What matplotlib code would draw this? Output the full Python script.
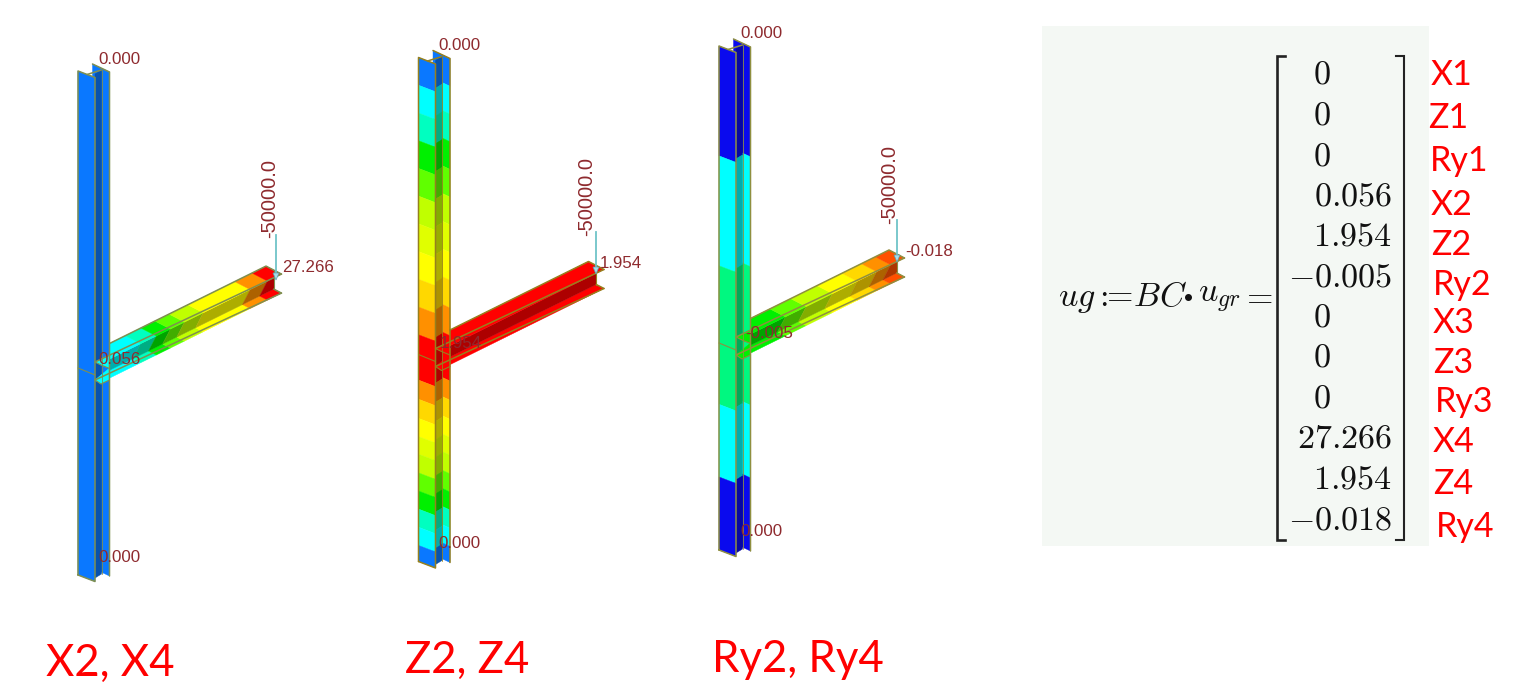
import matplotlib
matplotlib.use("Agg")
import matplotlib.pyplot as plt
from matplotlib.patches import Polygon, Rectangle

plt.rcParams['mathtext.fontset'] = 'cm'

# ---------- data ----------
BLUE, CYAN, AQUA, GREEN, LIME, YGRN, LEMON, YEL, GOLD, ORG, RED = (
    '#0a78ff', '#00ffff', '#00ffc0', '#00f000', '#60ff00', '#c0ff00',
    '#e0ff00', '#ffff00', '#ffd800', '#ff9000', '#ff0000')
DEEP = '#0a0aee'
MINT = '#00f880'
ORD = '#ff5000'

f1_col_edges = [0, 1]
f1_col_colors = [BLUE]
f1_beam_edges = [-.25, .10, .20, .29, .38, .50, .80, .91, 1]
f1_beam_colors = [CYAN, AQUA, GREEN, LIME, YGRN, YEL, ORG, RED]

f2_col_edges = [0, .055, .11, .165, .22, .275, .33, .385, .44, .495, .55, .64,
                .678, .716, .752, .787, .824, .86, .896, .932, .968, 1]
f2_col_colors = [BLUE, CYAN, AQUA, GREEN, LIME, YGRN, LEMON, YEL, GOLD, ORG, RED,
                 ORG, GOLD, YEL, LEMON, YGRN, LIME, GREEN, AQUA, CYAN, BLUE]
f2_beam_edges = [-.25, 1]
f2_beam_colors = [RED]

f3_col_edges = [0, .218, .436, .711, .855, 1]
f3_col_colors = [DEEP, CYAN, MINT, CYAN, DEEP]
f3_beam_edges = [-.25, .14, .29, .48, .66, .80, .90, 1]
f3_beam_colors = [GREEN, LIME, YGRN, YEL, GOLD, ORG, ORD]

frames = [
    dict(o=(78, 71), scale=1.13, ce=f1_col_edges, cc=f1_col_colors,
         be=f1_beam_edges, bc=f1_beam_colors, edge='#7f8f50'),
    dict(o=(418.5, 57.5), scale=1.0, ce=f2_col_edges, cc=f2_col_colors,
         be=f2_beam_edges, bc=f2_beam_colors, edge='#96801e'),
    dict(o=(719, 46), scale=1.0, ce=f3_col_edges, cc=f3_col_colors,
         be=f3_beam_edges, bc=f3_beam_colors, edge='#8f8f40'),
]

node_labels = [
    ('0.000', 98, 60), ('0.056', 98, 360), ('0.000', 98, 558), ('27.266', 282, 267),
    ('0.000', 438, 46), ('1.954', 440, 344), ('0.000', 438, 544), ('1.954', 600, 264),
    ('0.000', 740, 34), ('-0.005', 745, 333), ('0.000', 740, 532), ('-0.018', 905, 252),
]
load_label = '-50000.0'
load_pos = [(270, 198), (587, 196), (890, 184)]
load_line = [(276, 235, 276), (596, 232, 270), (897, 220, 258)]

case_labels = [('X2, X4', 46, 663), ('Z2, Z4', 405, 660), ('Ry2, Ry4', 712, 660)]

lhs_parts = [(r'$ug{:}\!\!\!{=}\!BC$', 1058), (r'$u_{gr}$', 1198), (r'${=}$', 1241)]
ug_values = ['0', '0', '0', '0.056', '1.954', '-0.005', '0', '0', '0', '27.266', '1.954', '-0.018']
dof_names = ['X1', 'Z1', 'Ry1', 'X2', 'Z2', 'Ry2', 'X3', 'Z3', 'Ry3', 'X4', 'Z4', 'Ry4']
row_y = [74, 115, 156, 196, 236, 277, 317, 357, 398, 438, 479, 520]
dof_x = [1431, 1428, 1430, 1431, 1431, 1433, 1433, 1433, 1435, 1433, 1433, 1436]
dof_y = [75, 118, 161, 205, 245, 285, 323, 363, 402, 442, 484, 527]

# ---------- drawing ----------
fig = plt.figure(figsize=(15.36, 6.97), dpi=100)
ax = fig.add_axes([0, 0, 1, 1])
ax.set_xlim(0, 1536)
ax.set_ylim(697, 0)
ax.axis('off')

H = 504


def dark(c, k=0.68):
    r, g, b = matplotlib.colors.to_rgb(c)
    return (r * k, g * k, b * k)


def poly(pts, fc, z, clip=None):
    p = Polygon(pts, closed=True, facecolor=fc, edgecolor=fc, lw=0.3, zorder=z)
    ax.add_patch(p)
    if clip is not None:
        p.set_clip_path(clip)
    return p


def outline(pts, col, z=8, lw=1.1):
    ax.plot([p[0] for p in pts], [p[1] for p in pts], color=col, lw=lw, zorder=z,
            solid_capstyle='round')


for fr in frames:
    ox, oy = fr['o']
    edge = fr['edge']

    def R(x, y):
        return (ox + x, oy + y)

    # column: rear flange, web, front flange
    for v0, v1, c in zip(fr['ce'][:-1], fr['ce'][1:], fr['cc']):
        y0, y1 = v0 * H, v1 * H
        poly([R(14.5, y0 - 7), R(31.5, y0 + 1), R(31.5, y1 + 1), R(14.5, y1 - 7)], c, 1)
        poly([R(17, y0 + 3), R(23.5, y0 - 1), R(23.5, y1 - 1), R(17, y1 + 3)], dark(c), 2)
        poly([R(0, y0), R(17, y0 + 6.5), R(17, y1 + 6.5), R(0, y1)], c, 3)
    outline([R(0, H), R(0, 0), R(17, 6.5), R(17, H + 6.5), R(0, H)], edge)
    outline([R(9, 3.5), R(23.5, -1)], edge)
    outline([R(14.5, -7), R(31.5, 1), R(31.5, H + 1)], edge)
    outline([R(23.5, -1), R(23.5, H - 1)], edge, lw=0.6)
    outline([R(0, 297), R(17, 304)], edge, lw=0.8)

    # beam
    s = fr['scale']
    Ax, Ay = 138.5 * s, -68.5 * s
    Cx, Cy = 15.5, 8
    Dy = 19

    def far(t):
        return (31.5 + Ax * t, 272.5 + Ay * t)

    def near(t):
        x, y = far(t)
        return (x + Cx, y + Cy)

    def center_bot(t):
        x, y = far(t)
        return (x + Cx / 2, y + Cy / 2 + Dy)

    def near_bot(t):
        x, y = near(t)
        return (x, y + Dy)

    tipx = far(1)[0] + Cx / 2
    clip_all = Rectangle(R(31.5, 150), 300, 250, transform=ax.transData)
    clip_web = Rectangle(R(31.5, 150), tipx - 31.5, 250, transform=ax.transData)
    for t0, t1, c in zip(fr['be'][:-1], fr['be'][1:], fr['bc']):
        poly([R(*center_bot(t0)), R(*center_bot(t1)), R(*near_bot(t1)), R(*near_bot(t0))], c, 4, clip_all)
        poly([R(*near(t0)), R(*near(t1)), R(*center_bot(t1)), R(*center_bot(t0))], dark(c), 5, clip_web)
        poly([R(*far(t0)), R(*far(t1)), R(*near(t1)), R(*near(t0))], c, 6, clip_all)
    first = fr['bc'][0]
    poly([R(17, 291), R(23, 294), R(31.5, 297.5), R(31.5, 284)], first, 6)
    poly([R(17, 309), R(23, 313), R(31.5, 309), R(31.5, 297)], first, 6)
    outline([R(*far(0)), R(*far(1)), R(*near(1))], edge)
    outline([R(17, 291), R(*near(1))], edge)
    outline([R(17, 291), R(23, 294), R(31.5, 297.5)], edge, lw=0.8)
    outline([R(17, 309), R(*near_bot(1))], edge)
    outline([R(17, 309), R(23, 313), R(31.5, 309)], edge, lw=0.8)
    outline([R(*center_bot(1)), R(*near_bot(1))], edge)
    outline([R(tipx, far(1)[1] + Cy / 2), R(tipx, far(1)[1] + Cy / 2 + Dy)], edge, lw=0.8)

label_font = 'Liberation Sans'
for txt, x, y in node_labels:
    ax.text(x, y, txt, color='#8e2a2e', fontsize=12.2, family=label_font,
            ha='left', va='center', zorder=12)
for (x, y) in load_pos:
    ax.text(x, y, load_label, color='#8e2a2e', fontsize=14.5, family=label_font,
            rotation=90, ha='center', va='center', zorder=12)
for x, y0, y1 in load_line:
    ax.plot([x, x], [y0, y1], color='#6fc4c8', lw=1.3, zorder=10)
    ax.add_patch(Polygon([(x - 3, y1 - 3), (x + 3, y1 - 3), (x, y1 + 4)], closed=True,
                         facecolor='#a8dce8', edgecolor='#5f9fb0', lw=0.5, zorder=11))

for txt, x, y in case_labels:
    ax.text(x, y, txt, color='#ff0000', fontsize=31.5, family='Lato', ha='left', va='center')

# matrix panel
ax.add_patch(Rectangle((1042, 26), 387, 520, facecolor='#f4f8f4', edgecolor='none', zorder=1))
for part, x in lhs_parts:
    ax.text(x, 297, part, fontsize=24.5, ha='left', va='center', color='#111111', zorder=3)
ax.plot([1188], [297], marker='o', ms=4, color='#111111', zorder=3)
for val, y in zip(ug_values, row_y):
    m = '$' + val + '$'
    if val == '0':
        ax.text(1322, y, m, fontsize=24.5, ha='center', va='center', color='#111111', zorder=3)
    else:
        ax.text(1392, y, m, fontsize=24.5, ha='right', va='center', color='#111111', zorder=3)

for x, tick, w in ((1277, 8, 1.9), (1404, -8, 1.5)):
    ax.plot([x + tick, x, x, x + tick], [56, 56, 540, 540], color='#222222', lw=w, zorder=3,
            solid_joinstyle='miter')

for name, x, y in zip(dof_names, dof_x, dof_y):
    ax.text(x, y, name, color='#ff0000', fontsize=24.5, family='Lato', ha='left', va='center')

fig.savefig('out.png', dpi=100, facecolor='white')
